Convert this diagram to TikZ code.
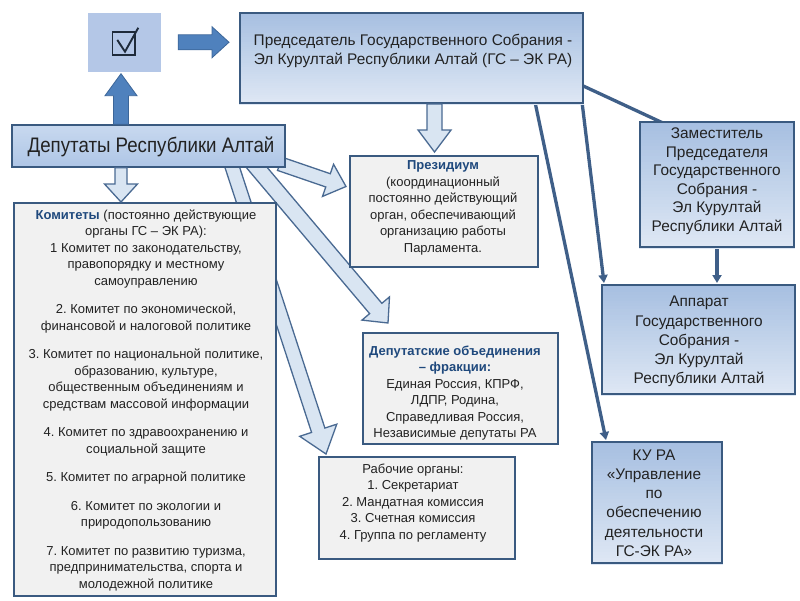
\documentclass[tikz,border=0pt]{standalone}
\usepackage{fontspec}
\setmainfont{Liberation Sans}
\newfontfamily\narrowfont{Liberation Sans}[FakeStretch=0.89]
\usetikzlibrary{calc,arrows.meta}
\pgfdeclarelayer{bg}
\pgfdeclarelayer{fillL}
\pgfsetlayers{bg,fillL,main}
\frenchspacing

\definecolor{boxline}{HTML}{3A5A80}
\definecolor{blueUpper}{HTML}{A6BFE1}
\definecolor{blueLower}{HTML}{DEE7F4}
\definecolor{depUpper}{HTML}{C8D9EF}
\definecolor{depLower}{HTML}{AFC6E6}
\definecolor{grayfill}{HTML}{F1F1F1}
\definecolor{chkfill}{HTML}{B4C7E7}
\definecolor{solidA}{HTML}{4F81BD}
\definecolor{solidAline}{HTML}{3C6699}
\definecolor{hollowfill}{HTML}{D9E5F2}
\definecolor{hollowline}{HTML}{4A6A92}
\definecolor{headblue}{HTML}{1F497D}
\definecolor{txt}{HTML}{222222}
\definecolor{connc}{HTML}{3F5F88}
\definecolor{chkline}{HTML}{1E2A3A}

\tikzset{
  bluebox/.style={draw=boxline, line width=2pt, rectangle, inner sep=0pt},
  depbox/.style={draw=boxline, line width=1.6pt, rectangle, inner sep=0pt},
  graybox/.style={draw=boxline, line width=2pt, fill=grayfill, rectangle, inner sep=0pt},
  chkbox/.style={fill=chkfill, rectangle, inner sep=0pt},
  btxt/.style={align=center, text=txt, inner sep=0pt, font={\fontsize{15.4}{18.5}\selectfont}},
  rtxt/.style={align=center, text=txt, inner sep=0pt, font={\fontsize{15.4}{19.2}\selectfont}},
  gtxt/.style={align=center, text=txt, inner sep=0pt, font={\fontsize{13}{16.5}\selectfont}},
  conn/.style={draw=connc, line width=3.3pt},
  connarr/.style={conn, -{Triangle[length=8pt,width=9pt]}},
  solidarr/.style={fill=solidA, draw=solidAline, line width=0.8pt, line join=miter},
  hollowarr/.style={fill=hollowfill, draw=hollowline, line width=1.3pt, line join=miter},
}

% #1 style, #2 start, #3 tip, #4 shaft half width, #5 head half width, #6 head length
\newcommand{\fatarrow}[6]{%
  \path (#2) coordinate (faS) (#3) coordinate (faE);
  \path ($(faE)!#6!(faS)$) coordinate (faB);
  \draw[#1] ($(faS)!#4!90:(faE)$) -- ($(faB)!#4!-90:(faS)$) -- ($(faB)!#5!-90:(faS)$)
     -- (faE) -- ($(faB)!#5!90:(faS)$) -- ($(faB)!#4!90:(faS)$) -- ($(faS)!#4!-90:(faE)$) -- cycle;
}

% vertical gradient fill of a node: #1 node, #2 colour at its top, #3 colour at its bottom
\newcommand{\gradfill}[3]{%
  \begin{pgfonlayer}{fillL}
  \foreach \i in {0,...,39}{%
    \pgfmathtruncatemacro\gp{100-\i*100/39}%
    \fill[#2!\gp!#3] ($(#1.north west)!{\i/40}!(#1.south west)$) rectangle ($(#1.north east)!{(\i+1.4)/40}!(#1.south east)$);
  }
  \end{pgfonlayer}
}

\begin{document}
\begin{tikzpicture}[x=1pt,y=-1pt]
\useasboundingbox (0,0) rectangle (800,600);
\begin{pgfonlayer}{bg}
\fill[white] (0,0) rectangle (800,600);
\end{pgfonlayer}

% boxes
\node[chkbox, minimum width=73pt, minimum height=59.5pt] (chk) at (124,42.25) {};
\node[bluebox, minimum width=343pt, minimum height=90pt] (chair) at (411.5,58) {};
\node[depbox, minimum width=273pt, minimum height=42pt] (dep) at (148.5,146) {};
\node[graybox, minimum width=262pt, minimum height=393pt] (com) at (145,399.5) {};
\node[graybox, minimum width=188pt, minimum height=111pt] (pres) at (444,211.5) {};
\node[graybox, minimum width=195pt, minimum height=111pt] (fac) at (460.5,388.5) {};
\node[graybox, minimum width=196pt, minimum height=102pt] (work) at (417,508) {};
\node[bluebox, minimum width=154pt, minimum height=125pt] (depch) at (717,184.5) {};
\node[bluebox, minimum width=193pt, minimum height=109pt] (app) at (698.5,339.5) {};
\node[bluebox, minimum width=130pt, minimum height=121pt] (ku) at (657,502.5) {};

\gradfill{chair}{blueUpper}{blueLower}
\gradfill{depch}{blueUpper}{blueLower}
\gradfill{app}{blueUpper}{blueLower}
\gradfill{ku}{blueUpper}{blueLower}
\gradfill{dep}{depUpper}{depLower}

% check mark icon
\begin{scope}[shift={(chk.center)}]
  \draw[chkline, line width=1.5pt] (-11.7,-10.5) rectangle (11,12.7);
  \draw[chkline, line width=1.9pt, line join=miter] (-6.7,-2.3) -- (1,9.4) -- (14.3,-14.5);
\end{scope}

% texts
\node[btxt] (chairT) at (413,51) {Председатель Государственного Собрания -\\Эл Курултай Республики Алтай (ГС – ЭК РА)};
\node[align=center, text=txt, inner sep=0pt, font={\narrowfont\fontsize{21}{24}\selectfont}] (depT) at (151,146.5) {Депутаты Республики Алтай};
\node[gtxt] (comT) at (146,400) {{\color{headblue}\bfseries Комитеты} (постоянно действующие\\
органы ГС – ЭК РА):\\
1 Комитет по законодательству,\\
правопорядку и местному\\
самоуправлению\\[12pt]
2. Комитет по экономической,\\
финансовой и налоговой политике\\[12pt]
3. Комитет по национальной политике,\\
образованию, культуре,\\
общественным объединениям и\\
средствам массовой информации\\[12pt]
4. Комитет по здравоохранению и\\
социальной защите\\[12pt]
5. Комитет по аграрной политике\\[12pt]
6. Комитет по экологии и\\
природопользованию\\[12pt]
7. Комитет по развитию туризма,\\
предпринимательства, спорта и\\
молодежной политике};
\node[gtxt] (presT) at (443,208) {{\color{headblue}\bfseries Президиум}\\
(координационный\\
постоянно действующий\\
орган, обеспечивающий\\
организацию работы\\
Парламента.};
\node[gtxt] (facT) at (455,393) {{\color{headblue}\bfseries Депутатские объединения}\\
{\color{headblue}\bfseries – фракции:}\\
Единая Россия, КПРФ,\\
ЛДПР, Родина,\\
Справедливая Россия,\\
Независимые депутаты РА};
\node[gtxt] (workT) at (413,503) {Рабочие органы:\\
1. Секретариат\\
2. Мандатная комиссия\\
3. Счетная комиссия\\
4. Группа по регламенту};
\node[btxt] (depchT) at (717,181) {Заместитель\\Председателя\\Государственного\\Собрания -\\Эл Курултай\\Республики Алтай};
\node[rtxt] (appT) at (699,341.5) {Аппарат\\Государственного\\Собрания -\\Эл Курултай\\Республики Алтай};
\node[rtxt] (kuT) at (654,503) {КУ РА\\«Управление\\по\\обеспечению\\деятельности\\ГС-ЭК РА»};

% arrows and connectors behind the boxes
\begin{pgfonlayer}{bg}
  \fatarrow{hollowarr}{$(dep.south east)+(-6,-4)$}{$(pres.west)+(-3,-25)$}{7pt}{17pt}{19pt}
  \fatarrow{hollowarr}{$(dep.south east)+(-33,-5)$}{$(fac.north west)+(26,-9)$}{8pt}{18pt}{19pt}
  \fatarrow{hollowarr}{$(dep.south east)+(-55,-5)$}{$(work.north west)+(8,-2)$}{7pt}{19.5pt}{25pt}
  \draw[conn] ($(chair.south east)+(-5,-20)$) -- ($(depch.north west)+(24,2)$);
  \draw[connarr] ($(chair.south east)+(-2,-2)$) -- ($(app.north west)+(3,-1)$);
  \draw[connarr] ($(chair.south east)+(-49,-2)$) -- ($(ku.north west)+(15,-1)$);
  \draw[connarr] ($(depch.south)+(0,-2)$) -- ($(depch.south |- app.north)+(0,-1)$);
\end{pgfonlayer}

% arrows in front
\fatarrow{solidarr}{$(chk.east)+(17.5,0)$}{$(chk.east -| chair.west)+(-10,0)$}{7.5pt}{15.5pt}{17pt}
\fatarrow{solidarr}{$(dep.north -| chk.south)+(-3,0)$}{$(chk.south)+(-3,1.5)$}{7.5pt}{16pt}{22pt}
\fatarrow{hollowarr}{$(dep.south -| chk.south)+(-3,0)$}{$(com.north -| chk.south)+(-3,0)$}{6pt}{16.5pt}{18pt}
\fatarrow{hollowarr}{$(chair.south)+(23,0)$}{$(pres.north -| chair.south)+(23,-3)$}{7.5pt}{16.5pt}{22pt}
\end{tikzpicture}
\end{document}
